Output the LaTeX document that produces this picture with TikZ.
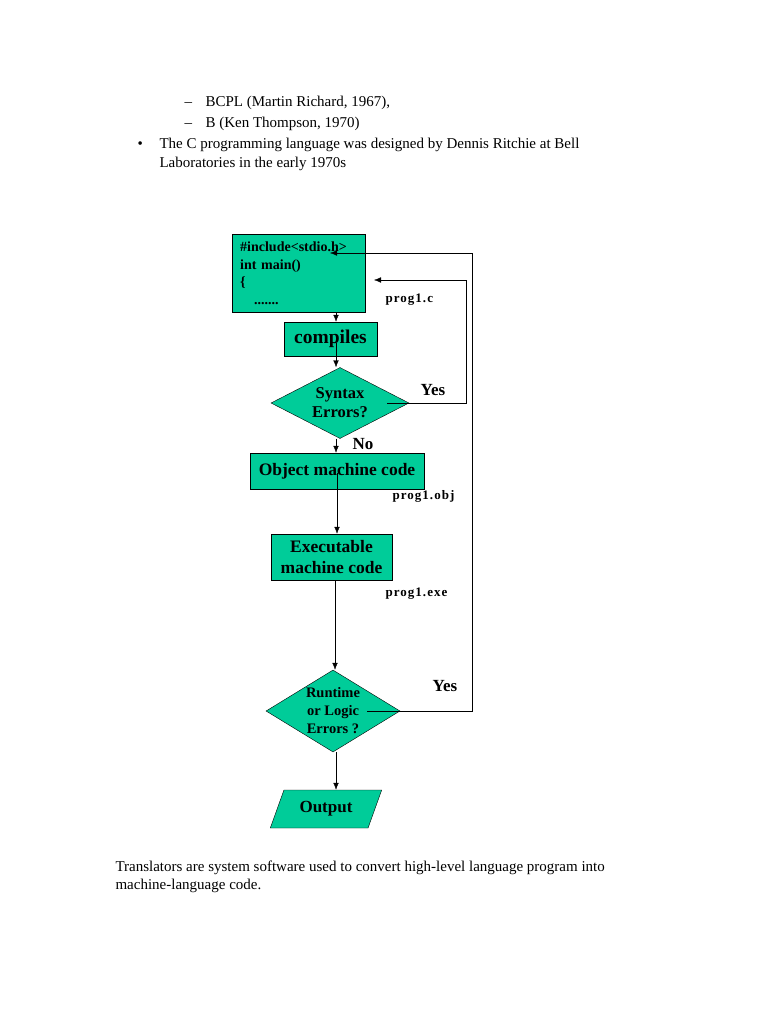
\documentclass[tikz,border=0pt]{standalone}
\usepackage{fontspec}
\setmainfont{Liberation Serif}
\usetikzlibrary{arrows.meta,calc,shapes.geometric}
\definecolor{flowgreen}{RGB}{0,204,153}
\tikzset{
	>={Latex[length=7pt,width=5.5pt]},
	bodytext/.style={anchor=base west,font=\fontsize{15}{17}\selectfont},
	flowbox/.style={draw,fill=flowgreen,font=\bfseries,inner sep=2pt,align=center},
	decision/.style={diamond,draw,fill=flowgreen,font=\bfseries,inner sep=-3pt,align=center},
	filename/.style={anchor=west,font=\fontsize{13}{15}\selectfont\bfseries\addfontfeature{LetterSpace=8}},
	answer/.style={font=\fontsize{17}{19}\selectfont\bfseries},
}

\begin{document}
\begin{tikzpicture}[x=1pt,y=-1pt]
		\useasboundingbox (0,0) rectangle (768,1024);
		% text above the chart
		\node[bodytext] (dasha) at (181,107) {--};
		\node[bodytext] (bcpl) at (202,107) {BCPL (Martin Richard, 1967),};
		\node[bodytext] (dashb) at (181,128) {--};
		\node[bodytext] (blang) at (202,128) {B (Ken Thompson, 1970)};
		\node[bodytext] (dot) at (134,149) {\textbullet};
		\node[bodytext] (linea) at (156,149) {The C programming language was designed by Dennis Ritchie at Bell};
		\node[bodytext] (lineb) at (156,168) {Laboratories in the early 1970s};
		% flow chart
		\coordinate (spine) at (336,0);
		\node[flowbox,minimum width=133,minimum height=78,align=left,anchor=north west,
			inner sep=8pt,text width=117,font=\fontsize{14}{17.5}\selectfont\bfseries] (src) at (232,234)
			{\#include<stdio.h>\\int main()\\\{\\\hspace*{14pt}.......};
		\node[flowbox,minimum width=93,minimum height=34,font=\fontsize{19.5}{22}\selectfont\bfseries] (comp) at (330.5,339) {compiles};
		\node[decision,minimum width=138,minimum height=71,aspect=1.94,font=\fontsize{16.5}{19}\selectfont\bfseries] (syn) at (340,403) {Syntax\\Errors?};
		\node[flowbox,minimum width=174,minimum height=36,font=\fontsize{17.5}{20}\selectfont\bfseries] (obj) at (337,471) {Object machine code};
		\node[flowbox,minimum width=121,minimum height=46,font=\fontsize{17.5}{21}\selectfont\bfseries] (exe) at (331.5,557) {Executable\\machine code};
		\node[decision,minimum width=134,minimum height=82,aspect=1.63,font=\fontsize{14.5}{18}\selectfont\bfseries] (run) at (333,711) {Runtime\\or Logic\\Errors ?};
		\node[trapezium,trapezium left angle=60,trapezium right angle=120,trapezium stretches=true,
			draw,fill=flowgreen,minimum width=112,minimum height=38,inner sep=0pt,
			font=\fontsize{17}{19}\selectfont\bfseries] (out) at (326,809) {Output};
		% file names and answers
		\node[filename] (namec) at (382,300) {prog1.c};
		\node[filename] (nameobj) at (389,496) {prog1.obj};
		\node[filename] (nameexe) at (382,594) {prog1.exe};
		\node[answer] (yesa) at (433,390) {Yes};
		\node[answer] (noa) at (363,444) {No};
		\node[answer] (yesb) at (445,686) {Yes};
		% connectors
		\draw[->] (src.south -| spine) -- (comp.north -| spine);
		\draw[->] ($(comp.center -| spine)+(0,4)$) -- (syn.north -| spine);
		\draw[->] (syn.south -| spine) -- (obj.north -| spine);
		\draw[->] ($(obj.center)+(0,2)$) -- (exe.north -| obj.center);
		\draw[->] (exe.south) ++(3.5,0) coordinate (exedrop) -- (run.north -| exedrop);
		\draw[->] (run.south -| spine) -- (out.north -| spine);
		\coordinate (loopa) at (466,280);
		\coordinate (tipa) at (374,280);
		\draw[->] ([xshift=-22pt]syn.east) -| (loopa) -- (tipa);
		\coordinate (loopb) at (472,253);
		\coordinate (tipb) at (330,253);
		\draw[->] ([xshift=-33pt]run.east) -| (loopb) -- (tipb);
		% text below the chart
		\node[bodytext] (linec) at (112,871) {Translators are system software used to convert high-level language program into};
		\node[bodytext] (lined) at (112,889) {machine-language code.};
\end{tikzpicture}
\end{document}
